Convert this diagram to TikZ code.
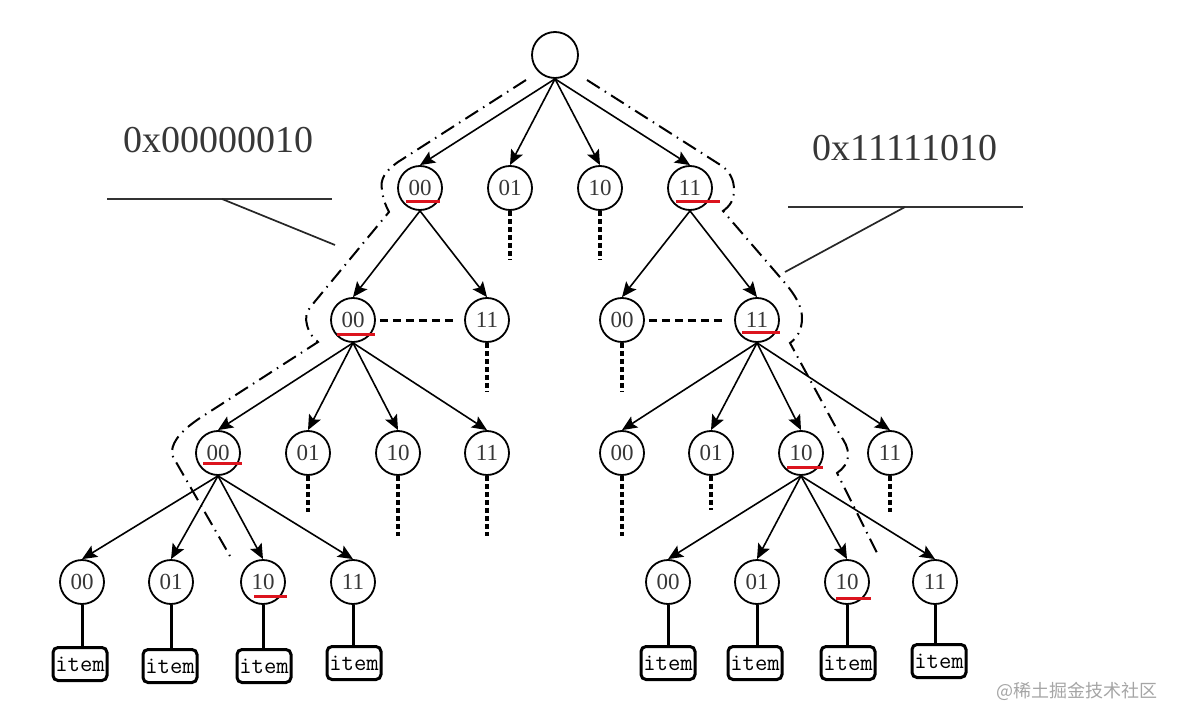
\documentclass[tikz,border=0pt]{standalone}
\usepackage{fontspec}
\setmainfont{Liberation Serif}
\newfontfamily\cjk{Noto Sans CJK SC}
\usetikzlibrary{arrows.meta,calc}
\definecolor{txtgray}{RGB}{55,55,55}
\definecolor{wmgray}{RGB}{165,165,165}
\definecolor{redline}{RGB}{220,20,30}
\tikzset{
  nd/.style={circle,draw=black,line width=1.8pt,minimum size=44pt,inner sep=0pt,
    font=\fontsize{23}{25}\selectfont,text=txtgray},
  rootnd/.style={nd,minimum size=46pt},
  itembox/.style={rectangle,rounded corners=5pt,draw=black,line width=3pt,
    minimum width=54pt,minimum height=33pt,inner sep=0pt,
    font=\ttfamily\fontsize{24}{26}\selectfont},
  arr/.style={line width=1.6pt,-{Stealth[length=15pt,width=13pt,inset=3pt]}},
  stub/.style={line width=4pt,dash pattern=on 5pt off 3pt},
  hdash/.style={line width=3pt,dash pattern=on 8pt off 5pt},
  itemline/.style={line width=3pt},
  pathline/.style={line width=2pt,dash pattern=on 15pt off 6pt on 1.5pt off 6pt},
  redmark/.style={draw=redline,line width=3pt},
  lbl/.style={font=\fontsize{38}{40}\selectfont,text=txtgray,inner sep=0pt},
  lblline/.style={line width=2.2pt,draw=black!80}
}
\begin{document}
\begin{tikzpicture}[x=1pt,y=-1pt]
\path[use as bounding box] (0,0) rectangle (1178,722);

% nodes
\node[rootnd] (r) at (555,55) {};
\node[nd] (a00) at (420,188) {00};
\node[nd] (a01) at (510,188) {01};
\node[nd] (a10) at (600,188) {10};
\node[nd] (a11) at (690,188) {11};

\node[nd] (b00) at (353,320) {00};
\node[nd] (b11) at (487,320) {11};
\node[nd] (c00) at (622,320) {00};
\node[nd] (c11) at (757,320) {11};

\node[nd] (d00) at (218,453) {00};
\node[nd] (d01) at (308,453) {01};
\node[nd] (d10) at (398,453) {10};
\node[nd] (d11) at (487,453) {11};
\node[nd] (e00) at (622,453) {00};
\node[nd] (e01) at (711,453) {01};
\node[nd] (e10) at (801,453) {10};
\node[nd] (e11) at (890,453) {11};

\node[nd] (f00) at (82,582) {00};
\node[nd] (f01) at (171,582) {01};
\node[nd] (f10) at (263,582) {10};
\node[nd] (f11) at (353,582) {11};
\node[nd] (g00) at (668,582) {00};
\node[nd] (g01) at (757,582) {01};
\node[nd] (g10) at (847,582) {10};
\node[nd] (g11) at (935,582) {11};

\node[itembox] (fi1) at (80,664) {item};
\node[itembox] (fi2) at (170,666) {item};
\node[itembox] (fi3) at (264,666) {item};
\node[itembox] (fi4) at (354,663) {item};
\node[itembox] (gi1) at (668,663) {item};
\node[itembox] (gi2) at (755,663) {item};
\node[itembox] (gi3) at (848,663) {item};
\node[itembox] (gi4) at (939,661) {item};

% arrows
\foreach \c in {a00,a01,a10,a11} \draw[arr] (r.south) -- (\c.north);
\foreach \c in {b00,b11} \draw[arr] (a00.south) -- (\c.north);
\foreach \c in {c00,c11} \draw[arr] (a11.south) -- (\c.north);
\foreach \c in {d00,d01,d10,d11} \draw[arr] (b00.south) -- (\c.north);
\foreach \c in {e00,e01,e10,e11} \draw[arr] (c11.south) -- (\c.north);
\foreach \c in {f00,f01,f10,f11} \draw[arr] (d00.south) -- (\c.north);
\foreach \c in {g00,g01,g10,g11} \draw[arr] (e10.south) -- (\c.north);

% item lines
\foreach \n/\b in {f00/fi1,f01/fi2,f10/fi3,f11/fi4,g00/gi1,g01/gi2,g10/gi3,g11/gi4}
  \draw[itemline] (\n.south) -- (\n.south |- \b.north);

% dotted stubs
\coordinate (sa01) at (510,260);
\coordinate (sa10) at (600,260);
\coordinate (sb11) at (487,392);
\coordinate (sc00) at (622,392);
\coordinate (sd01) at (308,512);
\coordinate (sd10) at (398,536);
\coordinate (sd11) at (487,536);
\coordinate (se00) at (622,536);
\coordinate (se01) at (711,510);
\coordinate (se11) at (890,512);
\foreach \n in {a01,a10,b11,c00,d01,d10,d11,e00,e01,e11}
  \draw[stub] (\n.south) -- (s\n);

% horizontal dashes
\draw[hdash] ($(b00.east)+(4,0)$) -- ($(b11.west)+(-9,0)$);
\draw[hdash] ($(c00.east)+(4,0)$) -- ($(c11.west)+(-9,0)$);

% red underlines
\draw[redmark] ($(a00)+(-14,14)$) -- ($(a00)+(20,14)$);
\draw[redmark] ($(a11)+(-14,14)$) -- ($(a11)+(30,14)$);
\draw[redmark] ($(b00)+(-16,14)$) -- ($(b00)+(22,14)$);
\draw[redmark] ($(c11)+(-15,12)$) -- ($(c11)+(23,12)$);
\draw[redmark] ($(d00)+(-15,10)$) -- ($(d00)+(24,10)$);
\draw[redmark] ($(e10)+(-14,14)$) -- ($(e10)+(22,14)$);
\draw[redmark] ($(f10)+(-9,14)$) -- ($(f10)+(24,14)$);
\draw[redmark] ($(g10)+(-11,16)$) -- ($(g10)+(24,16)$);

% dash-dot search paths
\draw[pathline] (526,80) -- (398,162) .. controls (384,172) and (380,180) .. (382,190)
  .. controls (383,200) and (386,206) .. (389,212) -- (312,305)
  .. controls (306,312) and (305,318) .. (307,325)
  .. controls (309,333) and (313,338) .. (318,342) -- (200,418)
  .. controls (185,428) and (172,440) .. (172,452)
  .. controls (172,456) and (174,459) .. (176,462) -- (230,556);
\draw[pathline] (587,80) -- (722,166) .. controls (730,172) and (734,180) .. (734,190)
  .. controls (734,200) and (730,206) .. (723,211) -- (785,283)
  .. controls (795,295) and (802,306) .. (802,318)
  .. controls (802,330) and (797,338) .. (790,343) -- (840,435)
  .. controls (845,442) and (848,447) .. (848,455)
  .. controls (848,463) and (843,469) .. (837,473) -- (877,553);

% labels
\node[lbl] (lab1) at (218,140) {0x00000010};
\node[lbl] (lab2) at (905,148) {0x11111010};
\coordinate (l1a) at (107,199);
\coordinate (l1b) at (332,199);
\coordinate (l1m) at (222,199);
\coordinate (l1e) at (335,245);
\coordinate (r1a) at (788,207);
\coordinate (r1b) at (1023,207);
\coordinate (r1m) at (905,207);
\coordinate (r1e) at (785,272);
\draw[lblline] (l1a) -- (l1b);
\draw[line width=1.7pt,black!85] (l1m) -- (l1e);
\draw[lblline] (r1a) -- (r1b);
\draw[line width=1.7pt,black!85] (r1m) -- (r1e);

% watermark
\node[text=wmgray,font=\cjk\fontsize{18}{20}\selectfont,inner sep=0pt] (wm) at (1077,691) {@稀土掘金技术社区};
\end{tikzpicture}
\end{document}
